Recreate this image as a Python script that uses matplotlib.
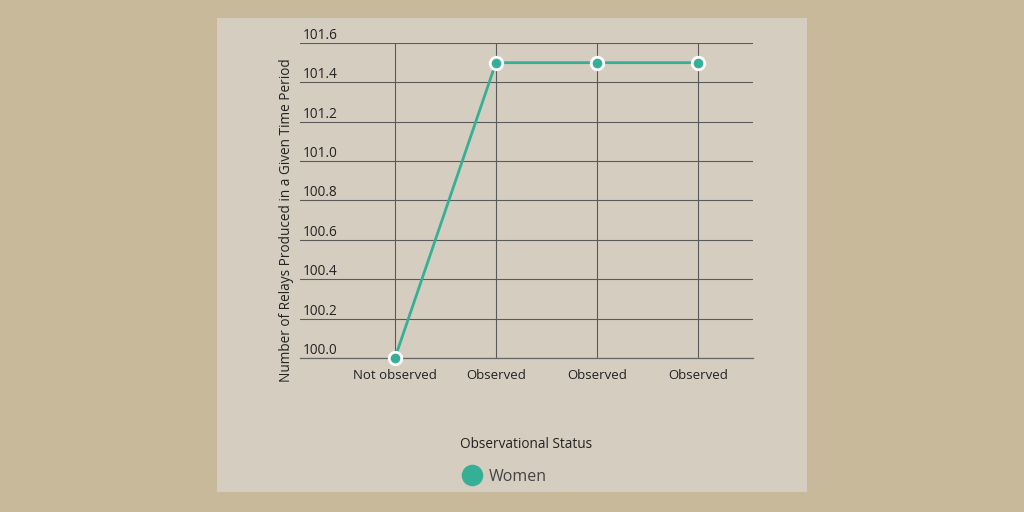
import matplotlib.pyplot as plt
from matplotlib.patches import Rectangle

# Data
categories = ["Not observed", "Observed", "Observed", "Observed"]
women = [100.0, 101.5, 101.5, 101.5]
y_ticks = [100.0, 100.2, 100.4, 100.6, 100.8, 101.0, 101.2, 101.4, 101.6]

plt.rcParams["font.family"] = ["Open Sans", "DejaVu Sans"]

fig = plt.figure(figsize=(10.24, 5.12), dpi=100)
fig.patch.set_facecolor("#c9b99b")

# lighter panel behind the chart
fig.patches.append(Rectangle((217 / 1024, 1 - 492 / 512), 590 / 1024, 474 / 512,
                             transform=fig.transFigure, facecolor="#d5cec0",
                             edgecolor="none", zorder=0))

ax = fig.add_axes([300 / 1024, 1 - 358 / 512, 453 / 1024, 315 / 512])
ax.set_zorder(2)
ax.set_facecolor("none")

x = list(range(len(categories)))
ax.plot(x, women, color="#35b096", linewidth=2, marker="o", markersize=9,
        markerfacecolor="#35b096", markeredgecolor="white", markeredgewidth=2,
        zorder=5, clip_on=False, label="Women")

ax.set_xlim(-0.94, 3.545)
ax.set_ylim(100.0, 101.6)
ax.set_xticks(x)
ax.set_xticklabels(categories, fontsize=9.5, color="#222222")
ax.set_yticks(y_ticks)
ax.set_yticklabels([f"{v:.1f}" for v in y_ticks], fontsize=9.8, color="#222222",
                   ha="left", va="bottom")
ax.tick_params(axis="y", length=0, pad=-2)
ax.tick_params(axis="x", length=0, pad=8)
for lbl in ax.get_yticklabels():
    lbl.set_y(lbl.get_position()[1])
    lbl.set_verticalalignment("bottom")

ax.grid(True, color="#5a5a5a", linewidth=0.8)
for s in ["top", "right", "left"]:
    ax.spines[s].set_visible(False)
ax.spines["bottom"].set_color("#666666")
ax.spines["bottom"].set_linewidth(0.9)

ax.set_ylabel("Number of Relays Produced in a Given Time Period", fontsize=9.8,
              color="#222222")
ax.yaxis.set_label_coords(-0.013, 0.438)
ax.set_xlabel("Observational Status", fontsize=9.8, color="#222222")
ax.xaxis.set_label_coords(0.5, -0.25)

leg = fig.legend(loc="center", bbox_to_anchor=(507 / 1024, 1 - 477 / 512),
                 frameon=False, fontsize=11.5, handlelength=0.6, handletextpad=0.8,
                 markerscale=1.5)
leg.set_zorder(3)
for h in leg.legend_handles:
    h.set_linestyle("none")
    h.set_markeredgecolor("#35b096")
for t in leg.get_texts():
    t.set_color("#444444")

plt.savefig("out.png", dpi=100, facecolor=fig.get_facecolor())
